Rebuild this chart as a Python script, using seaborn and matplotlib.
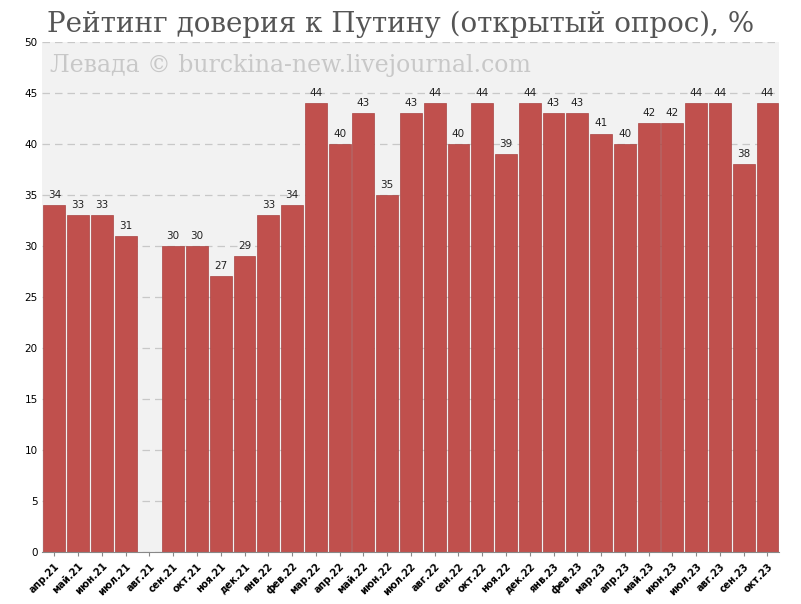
import numpy as np
import pandas as pd
import seaborn as sns
import matplotlib.pyplot as plt

months = ["апр.21", "май.21", "июн.21", "июл.21", "авг.21", "сен.21", "окт.21", "ноя.21",
          "дек.21", "янв.22", "фев.22", "мар.22", "апр.22", "май.22", "июн.22", "июл.22",
          "авг.22", "сен.22", "окт.22", "ноя.22", "дек.22", "янв.23", "фев.23", "мар.23",
          "апр.23", "май.23", "июн.23", "июл.23", "авг.23", "сен.23", "окт.23"]
values = [34, 33, 33, 31, np.nan, 30, 30, 27, 29, 33, 34, 44, 40, 43, 35, 43,
          44, 40, 44, 39, 44, 43, 43, 41, 40, 42, 42, 44, 44, 38, 44]

df = pd.DataFrame({"month": months, "value": values})

fig = plt.figure(figsize=(8.01, 6.04), dpi=100)
ax = fig.add_axes([0.053, 0.086, 0.92, 0.845])
ax.set_facecolor("#f2f2f2")

sns.barplot(data=df, x="month", y="value", color="#c0504d", saturation=1,
            width=0.92, edgecolor="#a94442", linewidth=0.5, ax=ax)

for i, v in enumerate(values):
    if not np.isnan(v):
        ax.text(i, v + 0.5, f"{v:.0f}", ha="center", va="bottom", fontsize=7.5, color="#222222")

ax.set_ylim(0, 50)
ax.set_xlim(-0.5, len(months) - 0.5)
ax.set_yticks(range(0, 51, 5))
ax.yaxis.grid(True, linestyle=(0, (6, 4)), color="#c8c8c8", linewidth=0.9)
ax.set_axisbelow(True)
for s in ["top", "right", "left"]:
    ax.spines[s].set_visible(False)
ax.spines["bottom"].set_color("#888888")
ax.tick_params(axis="y", length=0, labelsize=7.5)
ax.tick_params(axis="x", length=3, labelsize=7, color="#888888")
plt.setp(ax.get_xticklabels(), rotation=45, ha="right", rotation_mode="anchor", fontweight="bold")
ax.set_xlabel("")
ax.set_ylabel("")

fig.text(0.5, 0.96, "Рейтинг доверия к Путину (открытый опрос), %", ha="center", va="center",
         fontsize=20, family="DejaVu Serif", color="#555555")
ax.text(0.01, 0.975, "Левада © burckina-new.livejournal.com", transform=ax.transAxes,
        ha="left", va="top", fontsize=17, family="DejaVu Serif", color="#c8c8c8")

plt.savefig("out.png", dpi=100)
